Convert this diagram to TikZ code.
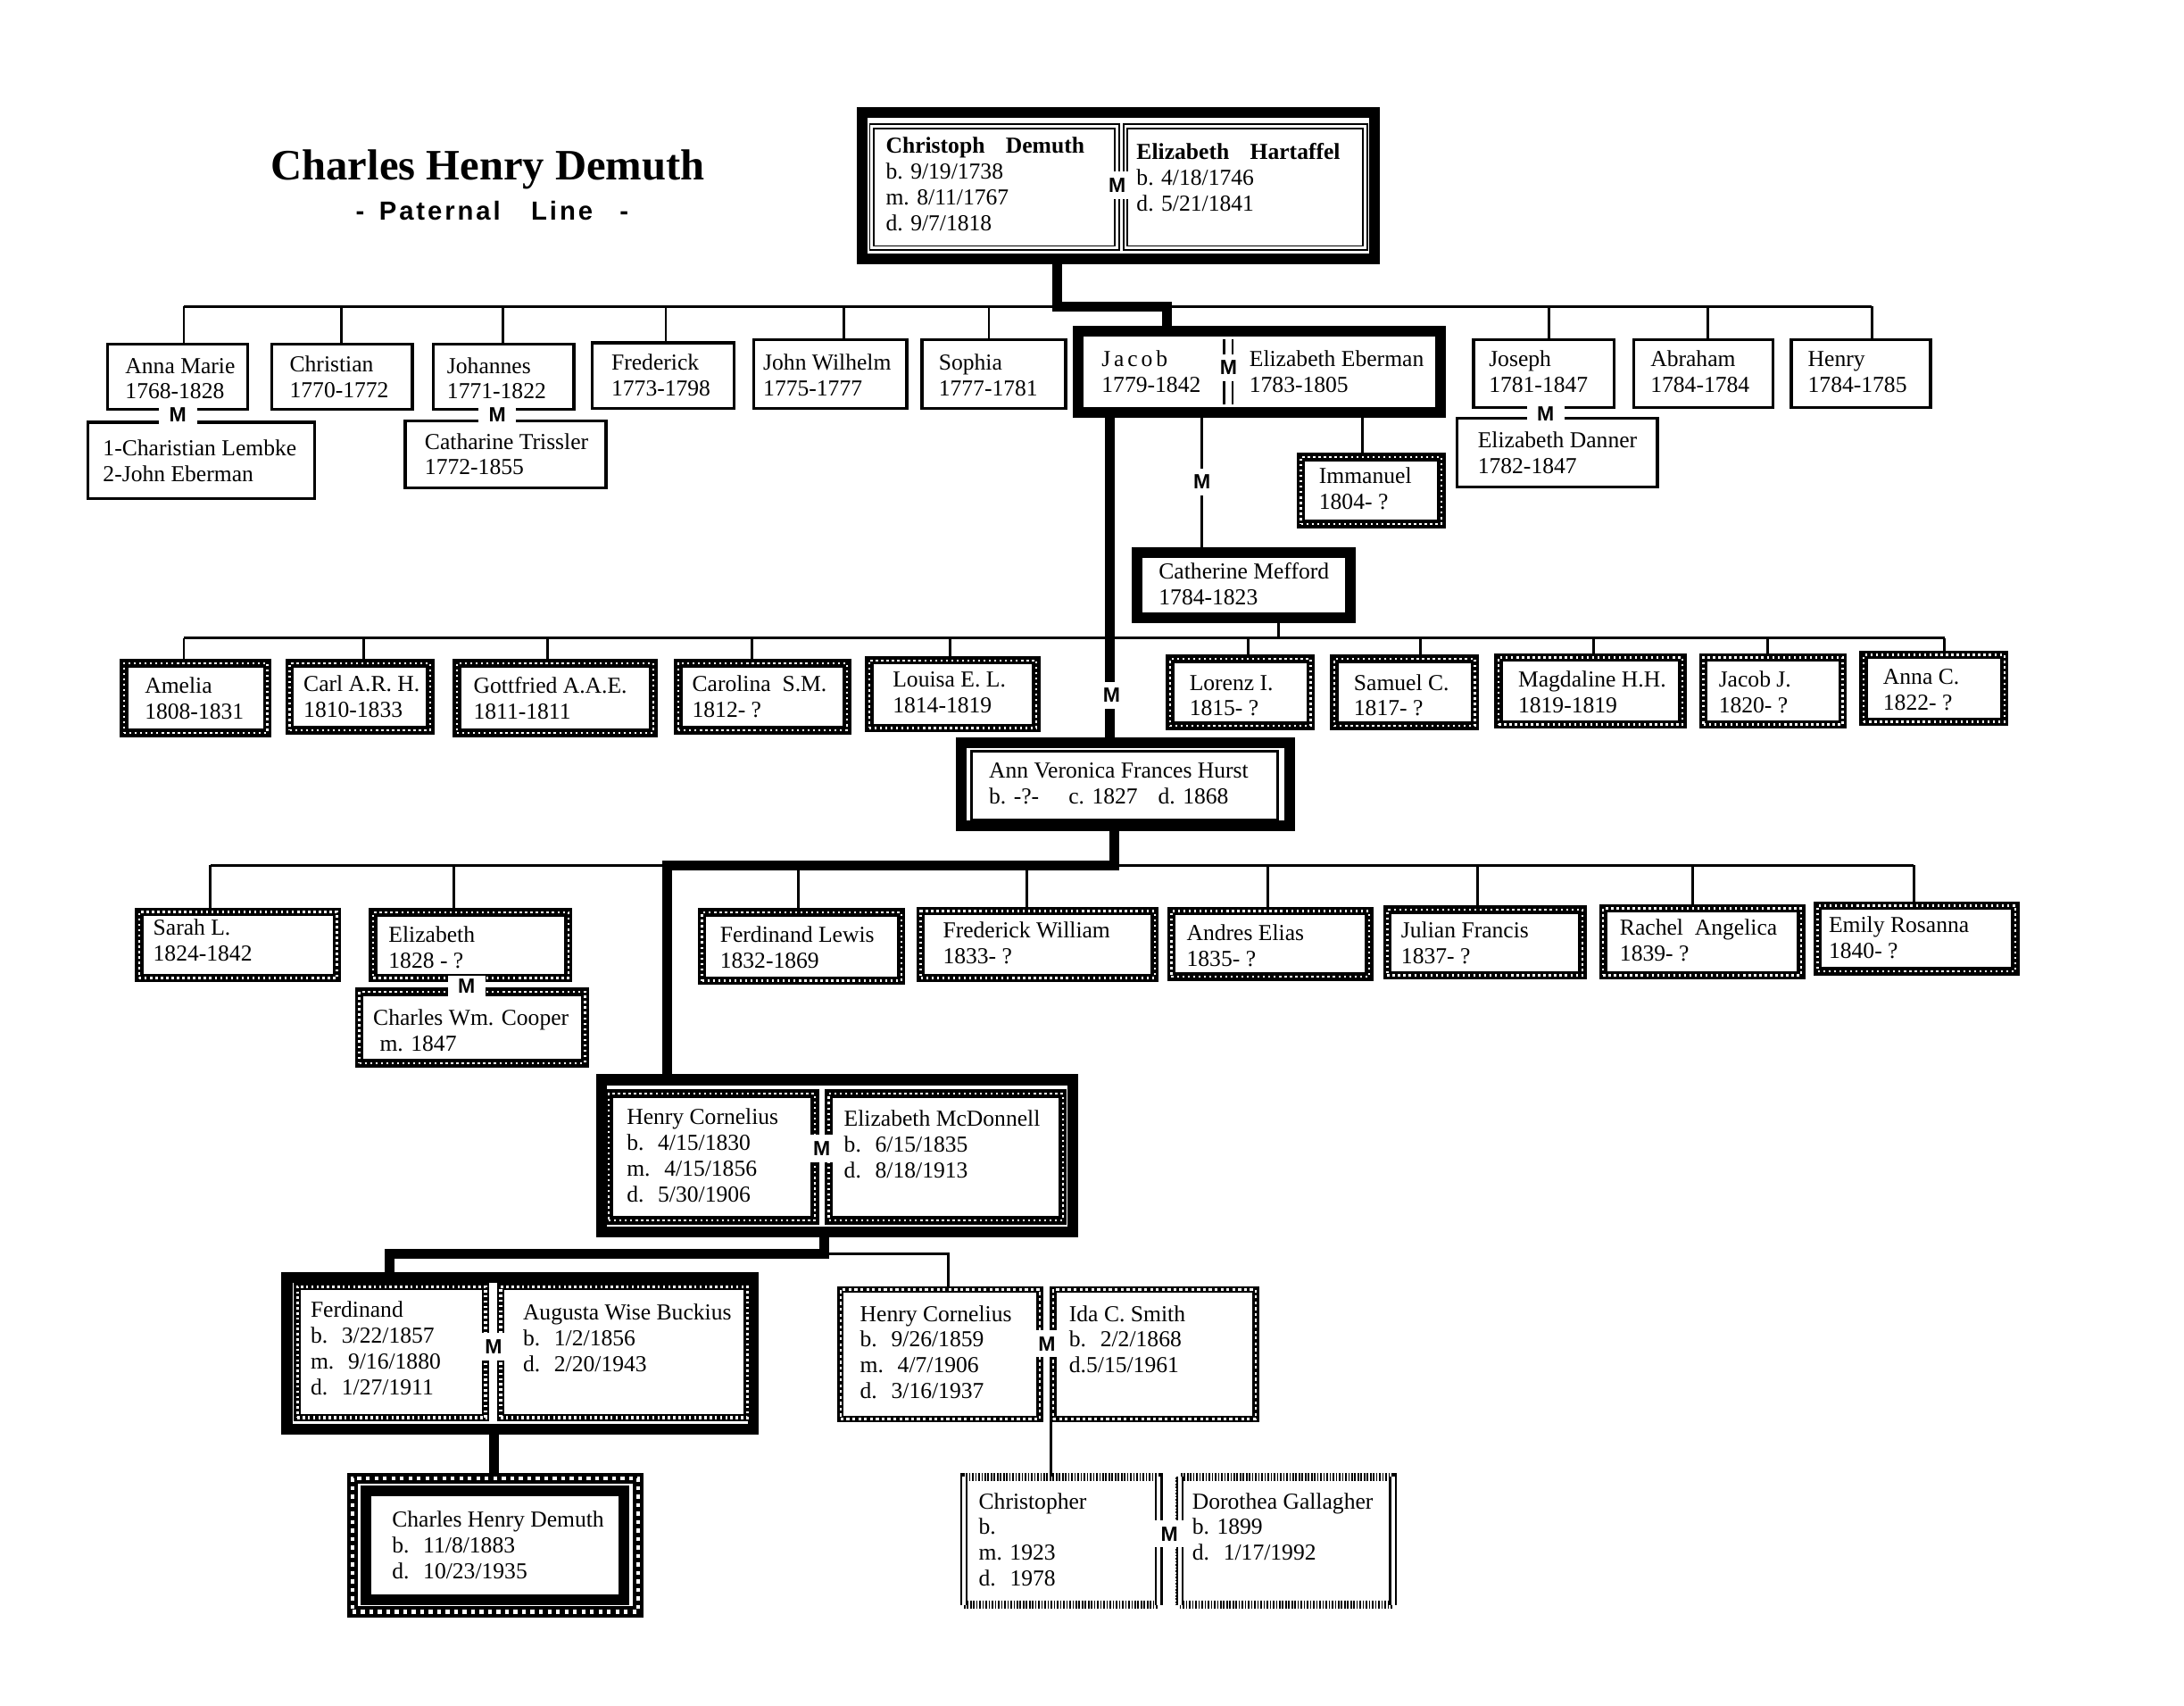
\documentclass[tikz,border=0pt]{standalone}
\usepackage{fontspec}
\setmainfont{Liberation Serif}
\newfontfamily\msans{Liberation Sans}
\newfontfamily\subfont[LetterSpace=10]{Liberation Sans}
\newfontfamily\spfont[LetterSpace=15]{Liberation Serif}
\pgfdeclarelayer{bg}
\pgfsetlayers{bg,main}
\newcommand\famfont{\fontsize{7}{7.9}\selectfont}
\newcommand\famgap{\hspace{4.3pt}}
\newcommand\famb[7]{\node[bx,#1,minimum width={(#5-#3-#7)*0.15mm},minimum height={(#6-#4-#7)*0.15mm}] (#2) at ({(#3+#5)/2},{(#4+#6)/2}) {};}
\newcommand\famt[4]{\node[tx] (#1) at ({#2},{#3-7.6}) {\strut #4};}
\begin{document}
\begin{tikzpicture}[x=0.15mm,y=-0.15mm,
  bx/.style={rectangle, inner sep=0pt, outer sep=0pt},
  plainb/.style={draw, line width=0.9pt},
  thickb/.style={draw, line width=3.3pt},
  zigb/.style={draw, line width=2.6pt, postaction={draw, white, line width=0.65pt, dash pattern=on 0.65pt off 1pt}},
  ferdb/.style={draw, line width=2.2pt, postaction={draw, white, line width=0.9pt, dash pattern=on 0.7pt off 0.9pt}},
  henb/.style={draw, line width=2pt, postaction={draw, white, line width=0.7pt, dash pattern=on 0.9pt off 0.9pt}},
  chdb/.style={draw, line width=3.4pt, postaction={draw, white, line width=1.2pt, dash pattern=on 1.2pt off 1.4pt}},
  dblb/.style={draw, double, double distance=0.8pt, line width=0.45pt},
  thinb/.style={draw, line width=0.8pt},
  hatchb/.style={draw, line width=2.4pt, dash pattern=on 0.45pt off 0.5pt},
  ln/.style={line width=0.8pt},
  tk/.style={line width=3pt},
  tx/.style={anchor=north west, inner sep=0pt, outer sep=0pt, align=left, font=\famfont},
  mh/.style={font=\msans\bfseries\fontsize{6.3}{7}\selectfont, fill=white, inner xsep=3.2pt, inner ysep=1.2pt},
  mv/.style={font=\msans\bfseries\fontsize{6.3}{7}\selectfont, fill=white, inner xsep=1pt, inner ysep=2pt}]
\useasboundingbox (0,0) rectangle (1568,1224);
\begin{pgfonlayer}{bg}\fill[white] (0,0) rectangle (1568,1224);\end{pgfonlayer}

% title
\node[anchor=base west, inner sep=0pt] (title) at (194,129.4) {\fontsize{13.3}{15}\selectfont\bfseries Charles Henry Demuth};
\node[anchor=base west, inner sep=0pt] (subtitle) at (255,158) {\subfont\bfseries\fontsize{8}{9}\selectfont -\hspace{4.5pt}Paternal\hspace{9.4pt}Line\hspace{8.3pt}-};

% top couple
\famb{thickb}{cdO}{615}{77}{991}{190}{8}
\famb{dblb}{cdL}{624}{88.6}{804}{180}{4}
\famb{dblb}{cdR}{806}{88.6}{982}{180}{4}
\famt{cdLt}{636}{104.7}{\textbf{Christoph}\hspace{6.4pt}\textbf{Demuth}\\b. 9/19/1738\\m. 8/11/1767\\d. 9/7/1818}
\famt{cdRt}{816}{109}{\textbf{Elizabeth}\hspace{6.4pt}\textbf{Hartaffel}\\b. 4/18/1746\\d. 5/21/1841}

% row 1
\famb{plainb}{anna}{76}{246}{179}{295}{2}
\famt{annat}{90}{262.5}{Anna Marie\\1768-1828}
\famb{plainb}{chr}{194}{246}{297}{295}{2}
\famt{chrt}{208}{261.6}{Christian\\1770-1772}
\famb{plainb}{joh}{310}{246}{413}{295}{2}
\famt{joht}{321}{262.5}{Johannes\\1771-1822}
\famb{plainb}{fre}{424}{245}{528}{294}{2}
\famt{fret}{439}{260.5}{Frederick\\1773-1798}
\famb{plainb}{jw}{540}{243}{652}{294}{2}
\famt{jwt}{548}{260.5}{John Wilhelm\\1775-1777}
\famb{plainb}{sop}{661}{243}{766}{294}{2}
\famt{sopt}{674}{260.5}{Sophia\\1777-1781}
\famb{thickb}{jac}{770}{234}{1038}{300}{8}
\famt{jact}{791}{257.5}{{\spfont Jacob}\\1779-1842}
\famt{ebt}{897}{257.5}{Elizabeth Eberman\\1783-1805}
\draw[line width=0.7pt] (879,243.5) -- (879,290.5) (885,243.5) -- (885,290.5);
\famb{plainb}{jos}{1057}{243}{1160}{293.5}{2}
\famt{jost}{1069}{257.5}{Joseph\\1781-1847}
\famb{plainb}{abr}{1172}{243}{1274}{293.5}{2}
\famt{abrt}{1185}{257.5}{Abraham\\1784-1784}
\famb{plainb}{hen}{1285}{243}{1387}{293.5}{2}
\famt{hent}{1298}{257.5}{Henry\\1784-1785}

% spouses row 1
\famb{plainb}{annS}{62}{302}{227}{359}{2}
\famt{annSt}{74}{322}{1-Charistian Lembke\\2-John Eberman}
\famb{plainb}{johS}{290}{301}{436}{351}{2}
\famt{johSt}{305}{317}{Catharine Trissler\\1772-1855}
\famb{plainb}{josS}{1045}{299}{1191}{350.5}{2}
\famt{josSt}{1061}{316}{Elizabeth Danner\\1782-1847}

\famb{zigb}{imm}{931}{325}{1038}{379}{6}
\famt{immt}{947}{341.5}{Immanuel\\1804- ?}
\famb{thickb}{cat}{813}{393}{973}{447}{7}
\famt{catt}{832}{410}{Catherine Mefford\\1784-1823}

% row 2
\famb{zigb}{ame}{86}{473}{195}{529}{6}
\famt{amet}{104}{492}{Amelia\\1808-1831}
\famb{zigb}{carl}{205}{473}{312}{527}{6}
\famt{carlt}{218}{491}{Carl A.R. H.\\1810-1833}
\famb{zigb}{got}{325}{473}{472}{529}{6}
\famt{gott}{340}{492}{Gottfried A.A.E.\\1811-1811}
\famb{zigb}{caro}{484}{473}{611}{527}{6}
\famt{carot}{497}{491}{Carolina~ S.M.\\1812- ?}
\famb{zigb}{lou}{621}{471}{747}{525.5}{6}
\famt{lout}{641}{488}{Louisa E. L.\\1814-1819}
\famb{zigb}{lor}{837}{470}{944}{524}{6}
\famt{lort}{854}{490}{Lorenz I.\\1815- ?}
\famb{zigb}{sam}{955}{470}{1062}{524}{6}
\famt{samt}{972}{490}{Samuel C.\\1817- ?}
\famb{zigb}{mag}{1073}{469}{1211}{523}{6}
\famt{magt}{1090}{488}{Magdaline H.H.\\1819-1819}
\famb{zigb}{jj}{1220}{469}{1326}{523}{6}
\famt{jjt}{1234}{488}{Jacob J.\\1820- ?}
\famb{zigb}{annc}{1335}{467}{1442}{521}{6}
\famt{annct}{1352}{486}{Anna C.\\1822- ?}

% Ann Veronica
\famb{thickb}{annO}{686}{529}{930}{597}{8}
\famb{thinb}{annI}{696.5}{538}{918}{589.5}{2}
\famt{annIt}{710}{553}{Ann Veronica Frances Hurst\\b. -?-\hspace{7.3pt} c. 1827\hspace{4.5pt} d. 1868}

% row 3
\famb{zigb}{sar}{97}{651.5}{245}{705}{6}
\famt{sart}{110}{666}{Sarah L.\\1824-1842}
\famb{zigb}{eli}{265}{652}{411}{705}{6}
\famt{elit}{279}{671}{Elizabeth\\1828 - ?}
\famb{zigb}{coo}{255}{709}{423}{766}{6}
\famt{coot}{268}{730.5}{Charles Wm. Cooper\\\hspace{2pt}m. 1847}
\famb{zigb}{fl}{501}{652}{650}{707}{6}
\famt{flt}{517}{671}{Ferdinand Lewis\\1832-1869}
\famb{zigb}{fw}{658}{651}{832}{705}{6}
\famt{fwt}{677}{668}{Frederick William\\1833- ?}
\famb{zigb}{ae}{838}{651}{986}{704}{6}
\famt{aet}{852}{669.6}{Andres Elias\\1835- ?}
\famb{zigb}{jf}{993}{650}{1139}{703}{6}
\famt{jft}{1006}{668}{Julian Francis\\1837- ?}
\famb{zigb}{ra}{1148}{649}{1296}{703}{6}
\famt{rat}{1163}{666}{Rachel\enspace Angelica\\1839- ?}
\famb{zigb}{em}{1302}{647}{1450}{700}{6}
\famt{emt}{1313}{664}{Emily Rosanna\\1840- ?}

% Henry Cornelius sr
\famb{thickb}{hcO}{428}{771}{774}{888}{8}
\famb{zigb}{hcL}{434}{782}{588}{879}{6}
\famb{zigb}{hcR}{592}{782}{766}{879}{6}
\famt{hcLt}{450}{802}{Henry Cornelius\\b.\famgap 4/15/1830\\m.\famgap 4/15/1856\\d.\famgap 5/30/1906}
\famt{hcRt}{606}{803}{Elizabeth McDonnell\\b.\famgap 6/15/1835\\d.\famgap 8/18/1913}

% Ferdinand
\famb{thickb}{fdO}{202}{913}{545}{1030}{8}
\famb{ferdb}{fdL}{211}{921}{351}{1020}{5}
\famb{ferdb}{fdR}{357}{921}{539}{1020}{5}
\famt{fdLt}{223}{940}{Ferdinand\\b.\famgap 3/22/1857\\m.\famgap 9/16/1880\\d.\famgap 1/27/1911}
\famt{fdRt}{375.5}{942}{Augusta Wise Buckius\\b.\famgap 1/2/1856\\d.\famgap 2/20/1943}

% Henry Cornelius jr
\famb{henb}{hjL}{601}{923}{749}{1021}{5}
\famb{henb}{hjR}{753.6}{923}{904}{1021}{5}
\famt{hjLt}{617.5}{943}{Henry Cornelius\\b.\famgap 9/26/1859\\m.\famgap 4/7/1906\\d.\famgap 3/16/1937}
\famt{hjRt}{767.6}{943}{Ida C. Smith\\b.\famgap 2/2/1868\\d.5/15/1961}

% Charles Henry Demuth
\famb{chdb}{chdO}{249}{1057}{462}{1161}{8}
\famb{thickb}{chdI}{259}{1066}{452}{1152}{8}
\famt{chdt}{281.5}{1090.6}{Charles Henry Demuth\\b.\famgap 11/8/1883\\d.\famgap 10/23/1935}

% Christopher
\famb{hatchb}{chrL}{689}{1057}{835}{1155}{6}
\famb{hatchb}{chrR}{844}{1057}{1003}{1155}{6}
\foreach \n in {chrL,chrR} {\draw[double, double distance=1.1pt, line width=0.6pt] (\n.north west) -- (\n.south west) (\n.north east) -- (\n.south east);}
\famt{chrLt}{702.7}{1077.6}{Christopher\\b.\\m. 1923\\d.\famgap 1978}
\famt{chrRt}{856}{1077.6}{Dorothea Gallagher\\b. 1899\\d.\famgap 1/17/1992}

% connectors
\begin{pgfonlayer}{bg}
\coordinate (k1) at (759,220); \coordinate (k2) at (838,220);
\coordinate (b1L) at (132,220); \coordinate (b1R) at (1344,220);
\draw[ln] (b1L) -- (b1R);
\draw[tk] (cdO.south -| k1) -- (k1) -- (k2) -- (jac.north -| k2);
\foreach \n/\x in {anna/132, chr/245, joh/361, fre/478, jw/606, sop/710, jos/1112, abr/1226, hen/1344}
  {\coordinate (s) at (\x,220); \draw[ln] (s) -- (\n.north -| s);}
\coordinate (j1) at (797,300); \coordinate (j2) at (863,300); \coordinate (j3) at (978,300);
\draw[tk] (jac.south -| j1) -- (annO.north -| j1);
\draw[ln] (jac.south -| j2) -- (cat.north -| j2);
\draw[ln] (jac.south -| j3) -- (imm.north -| j3);
\coordinate (c1) at (918,458); \coordinate (b2L) at (132,458); \coordinate (b2R) at (1396,458);
\draw[ln] (b2L) -- (b2R);
\draw[ln] (cat.south -| c1) -- (c1);
\foreach \n/\x in {ame/132, carl/261, got/393, caro/540, lou/682, lor/896, sam/1020, mag/1144, jj/1269, annc/1396}
  {\coordinate (s) at (\x,458); \draw[ln] (s) -- (\n.north -| s);}
\coordinate (a1) at (800,621); \coordinate (a2) at (479,621);
\coordinate (b3L) at (151,621); \coordinate (b3R) at (1374,621);
\draw[ln] (b3L) -- (b3R);
\draw[tk] (annO.south -| a1) -- (a1) -- (a2) -- (hcO.north -| a2);
\foreach \n/\x in {sar/151, eli/326, fl/573, fw/737, ae/910, jf/1061, ra/1215, em/1374}
  {\coordinate (s) at (\x,621); \draw[ln] (s) -- (\n.north -| s);}
\coordinate (h1) at (592,900); \coordinate (h2) at (280,900); \coordinate (h3) at (681,900);
\draw[tk] (hcO.south -| h1) -- (h1) -- (h2) -- (fdO.north -| h2);
\draw[ln] (h1) -- (h3) -- (hjL.north -| h3);
\coordinate (f1) at (354.4,1030);
\draw[tk] (fdO.south -| f1) -- (chdO.north -| f1);
\coordinate (e1) at (754.6,1021);
\draw[ln] (e1) -- (chrL.north -| e1);
\end{pgfonlayer}

% M labels
\node[mh] (mA) at (127.7,298) {M};
\node[mh] (mJ) at (357,298) {M};
\node[mh] (mJo) at (1109.7,297) {M};
\node[mh] (mE) at (335,708) {M};
\node[mv] (mTop) at (802,133) {M};
\node[mv] (mJac) at (882,264) {M};
\node[mv] (mL1) at (798,499) {M};
\node[mv] (mL2) at (863,346) {M};
\node[mv] (mHc) at (590,824.5) {M};
\node[mv] (mFd) at (354.4,966.5) {M};
\node[mv] (mHj) at (751.6,964.5) {M};
\node[mv, inner xsep=2pt] (mChr) at (839.6,1101) {M};
\end{tikzpicture}
\end{document}
